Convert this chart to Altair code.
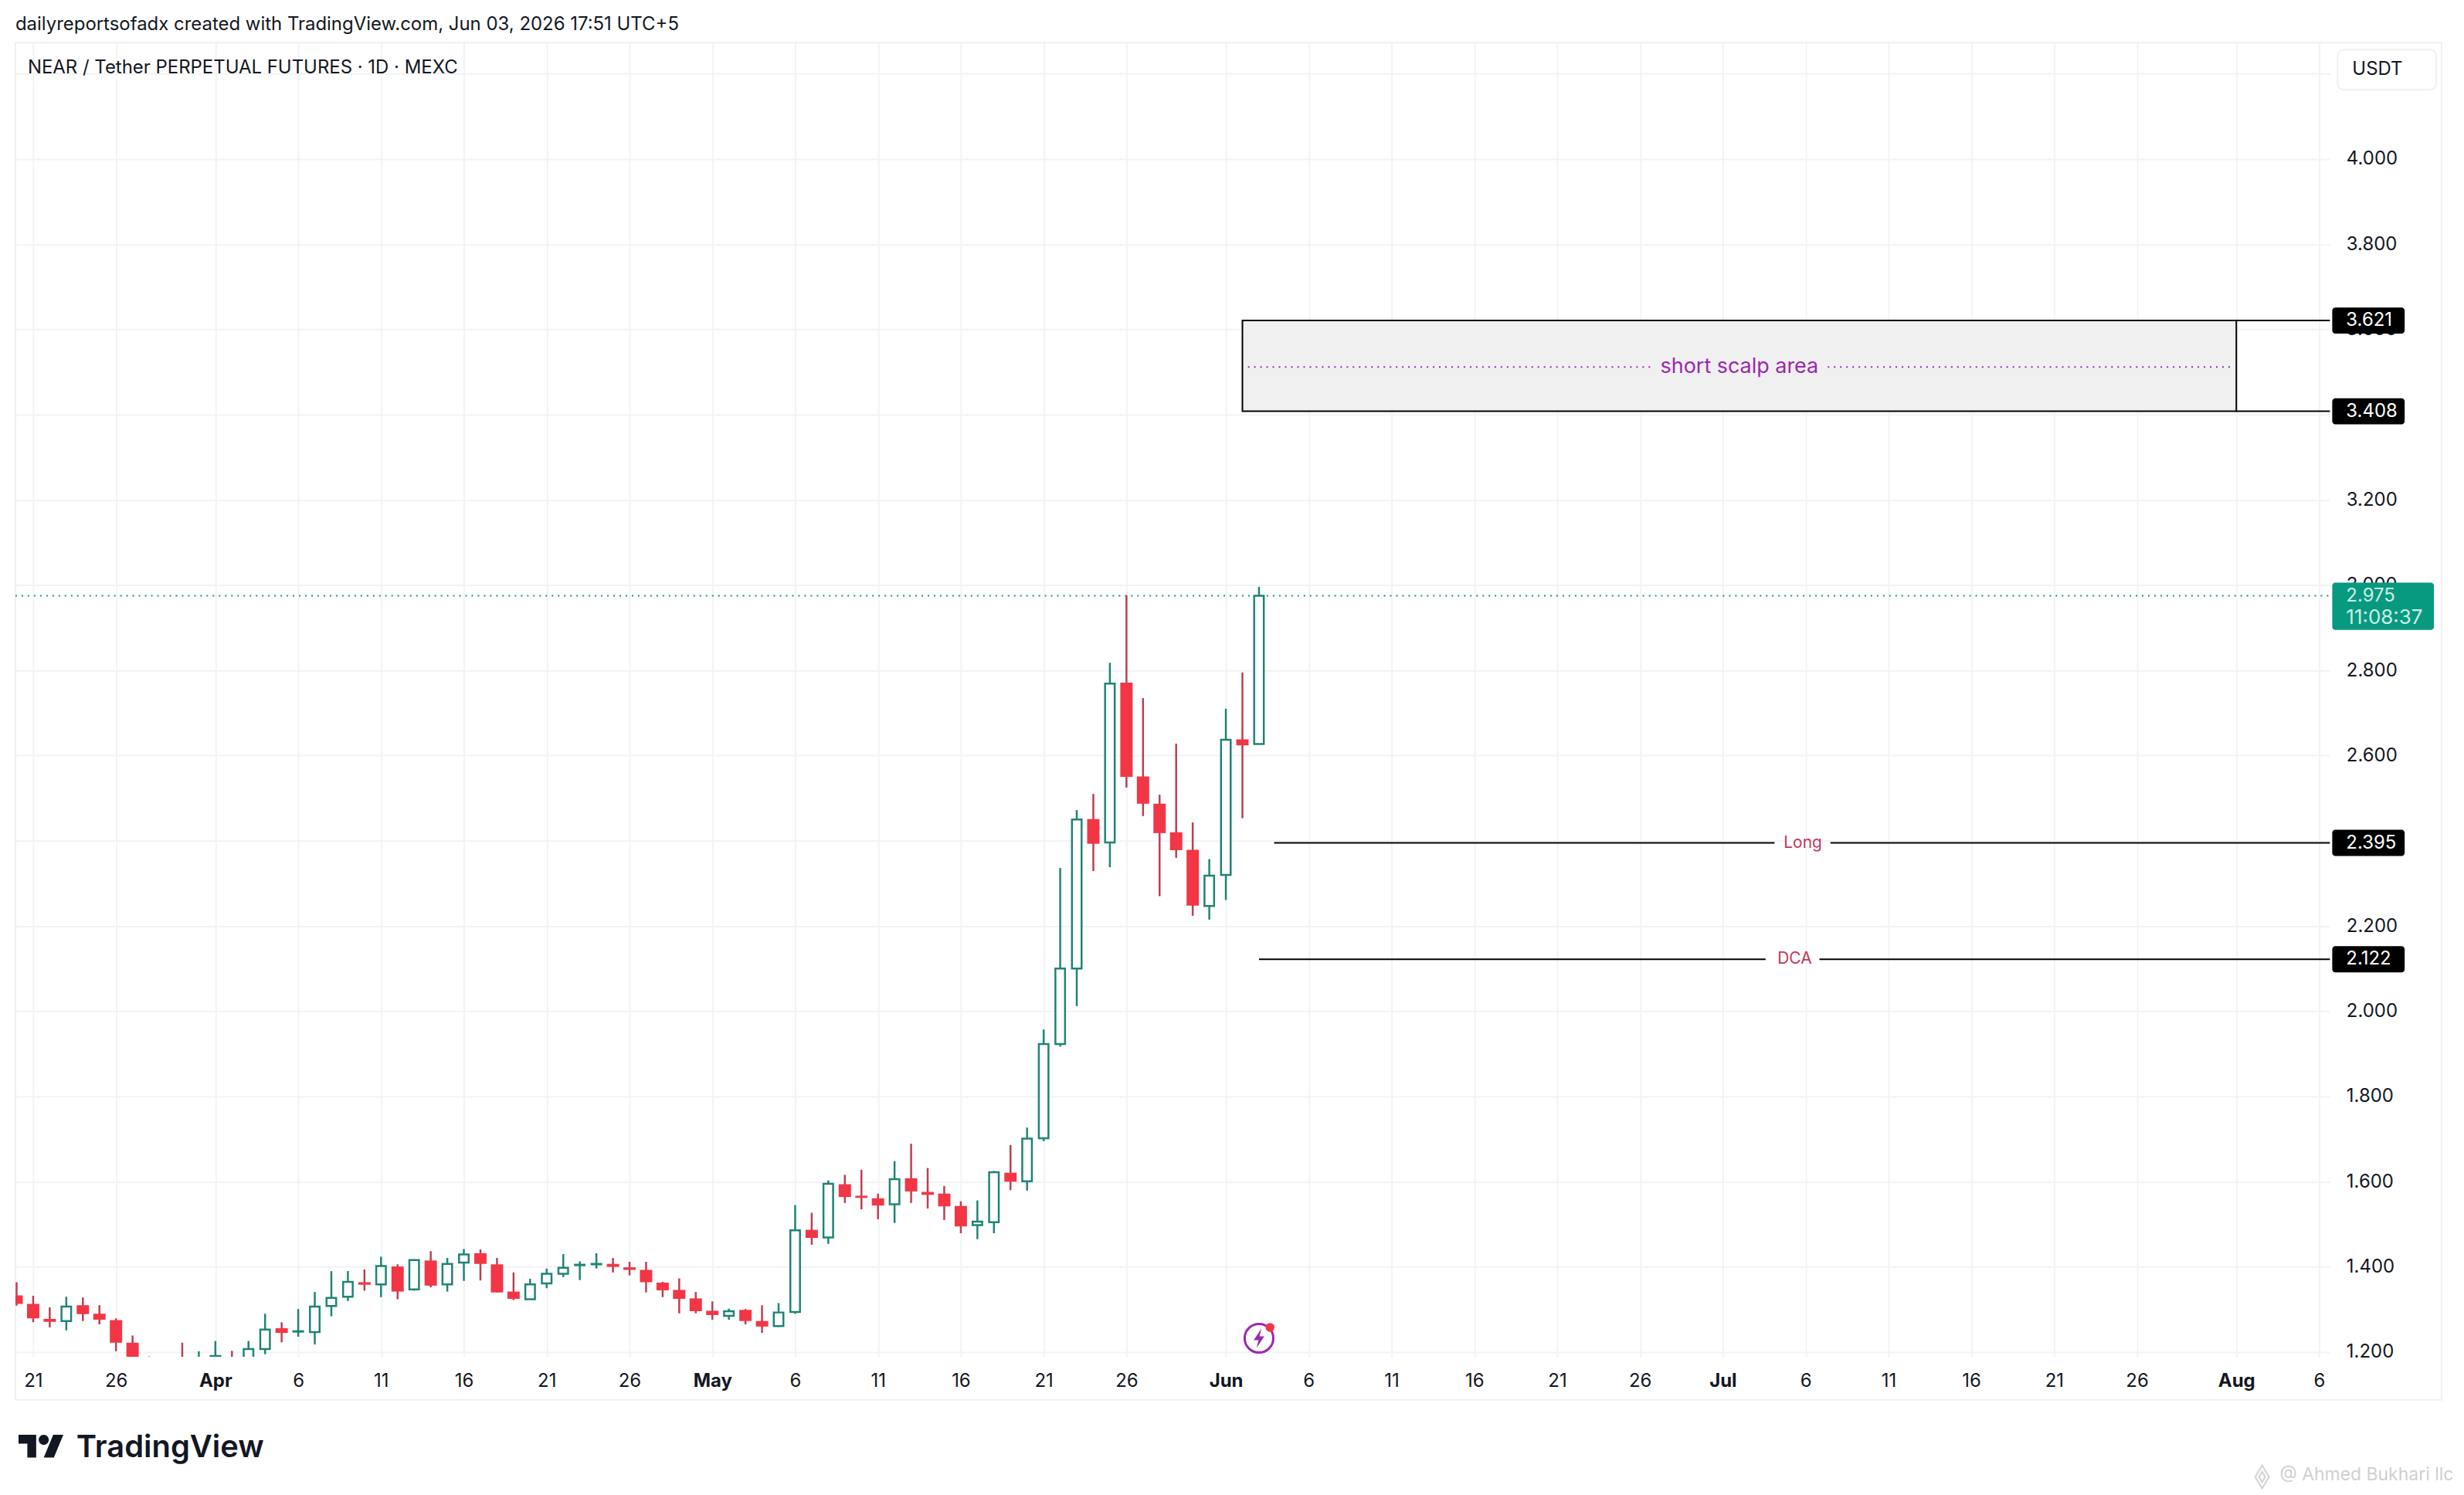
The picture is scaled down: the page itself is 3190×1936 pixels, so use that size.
import altair as alt
import pandas as pd

FONT = "Inter"
INK = "#131722"
GREEN = "#1F8474"
TEAL = "#089981"
RED = "#F23645"
RED_WICK = "#BC3F52"
PURPLE = "#9C27B0"
GRID = "#F2F3F5"

opens = [1.333,1.313,1.278,1.273,1.310,1.290,1.275,1.222,1.170,1.155,1.170,1.155,
         1.165,1.189,1.175,1.207,1.256,1.248,1.247,1.308,1.330,1.364,1.359,1.401,1.347,1.415,1.359,1.410,1.432,1.406,
         1.342,1.324,1.361,1.384,1.404,1.406,1.407,1.399,1.393,1.363,1.346,1.326,
         1.297,1.285,1.299,1.273,1.261,1.294,1.487,1.469,1.594,1.567,1.561,1.547,1.608,1.576,1.572,1.543,1.498,1.505,
         1.621,1.601,1.702,1.923,2.100,2.451,2.396,2.771,2.551,2.487,2.420,2.379,2.247,
         2.320,2.638,2.627]
highs = [1.364,1.332,1.305,1.330,1.328,1.310,1.279,1.239,1.190,1.180,1.222,1.202,
         1.226,1.203,1.226,1.290,1.270,1.301,1.341,1.390,1.390,1.394,1.424,1.406,1.418,1.437,1.421,1.442,1.441,1.421,
         1.387,1.372,1.396,1.430,1.413,1.432,1.421,1.412,1.412,1.365,1.373,1.341,
         1.319,1.302,1.301,1.310,1.315,1.545,1.527,1.603,1.616,1.628,1.572,1.648,1.689,1.632,1.590,1.554,1.556,1.625,
         1.686,1.727,1.957,2.336,2.472,2.510,2.818,2.976,2.735,2.508,2.628,2.443,2.357,
         2.710,2.795,2.996]
lows = [1.309,1.270,1.258,1.251,1.273,1.265,1.202,1.150,1.140,1.140,1.140,1.140,
        1.150,1.160,1.160,1.195,1.223,1.236,1.218,1.284,1.320,1.344,1.329,1.324,1.344,1.352,1.342,1.367,1.368,1.340,
        1.322,1.324,1.350,1.376,1.369,1.396,1.387,1.380,1.340,1.329,1.291,1.291,
        1.276,1.276,1.265,1.245,1.259,1.290,1.452,1.454,1.550,1.535,1.512,1.503,1.550,1.537,1.510,1.479,1.465,1.479,
        1.580,1.579,1.695,1.917,2.012,2.329,2.338,2.525,2.458,2.270,2.360,2.224,2.215,
        2.261,2.453,2.627]
closes = [1.313,1.279,1.271,1.307,1.289,1.276,1.222,1.170,1.155,1.150,1.155,1.165,
          1.191,1.175,1.207,1.253,1.245,1.249,1.307,1.327,1.365,1.358,1.402,1.342,1.416,1.356,1.407,1.429,1.407,1.340,
          1.325,1.359,1.384,1.398,1.405,1.407,1.400,1.393,1.364,1.345,1.325,1.296,
          1.287,1.296,1.273,1.260,1.293,1.486,1.468,1.595,1.564,1.562,1.544,1.606,1.577,1.569,1.542,1.495,1.506,1.622,
          1.600,1.701,1.923,2.100,2.450,2.393,2.769,2.550,2.487,2.418,2.378,2.248,2.318,
          2.637,2.624,2.975]

price_ticks = [1.2,1.4,1.6,1.8,2.0,2.2,2.4,2.6,2.8,3.0,3.2,3.4,3.6,3.8,4.0,4.2]
date_ticks = ["2026-03-21","2026-03-26","2026-04-01","2026-04-06","2026-04-11","2026-04-16","2026-04-21","2026-04-26",
              "2026-05-01","2026-05-06","2026-05-11","2026-05-16","2026-05-21","2026-05-26","2026-06-01","2026-06-06",
              "2026-06-11","2026-06-16","2026-06-21","2026-06-26","2026-07-01","2026-07-06","2026-07-11","2026-07-16",
              "2026-07-21","2026-07-26","2026-08-01","2026-08-06"]

def ms(s):
    return int(pd.Timestamp(s, tz="UTC").value // 10**6)

X0, X1 = ms("2026-03-19T22:18"), ms("2026-08-06T15:36")
Y0, Y1 = 1.189, 4.273

x_scale = alt.Scale(type="utc", domain=[X0, X1], padding=0)
y_scale = alt.Scale(domain=[Y0, Y1], nice=False, zero=False)

x_axis = alt.Axis(
    values=[ms(d) for d in date_ticks],
    labelExpr="utcdate(datum.value)==1 ? utcFormat(datum.value,'%b') : utcFormat(datum.value,'%-d')",
    labelFontWeight=alt.condition("utcdate(datum.value)==1", alt.value("bold"), alt.value("normal")),
    labelFont=FONT, labelFontSize=24, labelColor=INK, labelPadding=20, labelAngle=0,
    labelOverlap=False, labelBound=False, labelFlush=False,
    ticks=False, domain=False, grid=True, gridColor=GRID, gridWidth=2, title=None)
y_axis = alt.Axis(
    orient="right", values=price_ticks,
    labelExpr="datum.value > 4.1 ? '' : format(datum.value,'.3f')",
    labelFont=FONT, labelFontSize=24, labelColor=INK, labelPadding=21,
    labelOverlap=False, labelBound=False, labelFlush=False,
    ticks=False, domain=False, grid=True, gridColor=GRID, gridWidth=2, title=None)

def YF(f):
    return alt.Y(f, scale=y_scale, axis=y_axis)

X = alt.X("t:T", scale=x_scale, axis=x_axis)
Y = YF("p:Q")
Y2 = alt.Y2("p2:Q")
X2 = alt.X2("t2:T")

df = pd.DataFrame({
    "t": [ms(d) for d in pd.date_range("2026-03-20", periods=len(opens)).strftime("%Y-%m-%d")],
    "o": opens, "h": highs, "l": lows, "c": closes,
})
df["top"] = df[["o", "c"]].max(axis=1)
df["bot"] = df[["o", "c"]].min(axis=1)
up = df[df.c >= df.o]
dn = df[df.c < df.o]

frame = alt.Chart(pd.DataFrame({"a": [0]})).mark_rect(fill="transparent", stroke="#F0F0F0", strokeWidth=2).encode(
    x=alt.value(0), x2=alt.value(3149), y=alt.value(0), y2=alt.value(1762))

def wick(d, color):
    return alt.Chart(d).mark_rule(color=color, strokeWidth=2.5, clip=True).encode(
        x=X, y=YF("h:Q"), y2=alt.Y2("l:Q"))

wick_up = wick(up, GREEN)
wick_dn = wick(dn, RED_WICK)
body_up = alt.Chart(up).mark_bar(size=12.5, fill="white", stroke=GREEN, strokeWidth=2.5, clip=True).encode(
    x=X, y=YF("top:Q"), y2=alt.Y2("bot:Q"))
body_dn = alt.Chart(dn).mark_bar(size=16, color=RED, clip=True).encode(
    x=X, y=YF("top:Q"), y2=alt.Y2("bot:Q"))

# short scalp box
box_top, box_bot = 3.621, 3.408
box_l, box_r = ms("2026-06-02"), ms("2026-08-01")
box = alt.Chart(pd.DataFrame({"t": [box_l], "t2": [box_r], "p": [box_top], "p2": [box_bot]})).mark_rect(
    fill="#F0F0F1", stroke="black", strokeWidth=2).encode(x=X, x2=X2, y=Y, y2=Y2)
rays = alt.Chart(pd.DataFrame({"t": [box_r, box_r], "t2": [X1, X1], "p": [box_top, box_bot]})).mark_rule(
    color="black", strokeWidth=2).encode(x=X, x2=X2, y=Y)

scalp_mid = 3.512
scalp_line = alt.Chart(pd.DataFrame({
    "t": [ms("2026-06-02T08:00"), ms("2026-07-07T08:00")],
    "t2": [ms("2026-06-26T19:00"), ms("2026-07-31T17:00")],
    "p": [scalp_mid, scalp_mid]})).mark_rule(color=PURPLE, strokeWidth=2, strokeDash=[2, 6]).encode(x=X, x2=X2, y=Y)
scalp_text = alt.Chart(pd.DataFrame({"t": [ms("2026-07-02")], "p": [scalp_mid], "s": ["short scalp area"]})).mark_text(
    font=FONT, fontSize=27, color=PURPLE).encode(x=X, y=Y, text="s:N")

# horizontal levels
level_lines = alt.Chart(pd.DataFrame({
    "t": [ms("2026-06-03T22:00"), ms("2026-07-07T12:00"), ms("2026-06-03"), ms("2026-07-06T20:00")],
    "t2": [ms("2026-07-04T03:00"), X1, ms("2026-07-03T14:00"), X1],
    "p": [2.395, 2.395, 2.122, 2.122]})).mark_rule(color="black", strokeWidth=2).encode(x=X, x2=X2, y=Y)
level_text = alt.Chart(pd.DataFrame({
    "t": [ms("2026-07-05T20:00"), ms("2026-07-05T08:00")],
    "p": [2.395, 2.122], "s": ["Long", "DCA"]})).mark_text(font=FONT, fontSize=21, color="#C2375C").encode(x=X, y=Y, text="s:N")

# last price line
last_price = 2.975
price_line = alt.Chart(pd.DataFrame({"t": [X0], "t2": [X1], "p": [last_price]})).mark_rule(
    color=TEAL, strokeWidth=2, strokeDash=[2, 6]).encode(x=X, x2=X2, y=Y)

# price tags on the axis
tag_vals = [3.621, 3.408, 2.395, 2.122]
tag_half = 0.0307
tag_df = pd.DataFrame({"p": [v + tag_half for v in tag_vals], "p2": [v - tag_half for v in tag_vals],
                       "m": tag_vals, "s": [f"{v:.3f}" for v in tag_vals]})
tags = alt.Chart(tag_df).mark_rect(fill="black", cornerRadius=4).encode(
    x=alt.value(3007), x2=alt.value(3101), y=Y, y2=Y2)
tags_text = alt.Chart(tag_df).mark_text(font=FONT, fontSize=24, color="white", align="left").encode(
    x=alt.value(3025), y=YF("m:Q"), text="s:N")

last_tag = alt.Chart(pd.DataFrame({"p": [3.006], "p2": [2.895]})).mark_rect(fill=TEAL, cornerRadius=4).encode(
    x=alt.value(3007), x2=alt.value(3139), y=Y, y2=Y2)
last_text = alt.Chart(pd.DataFrame({"p": [2.975], "s": ["2.975"]})).mark_text(
    font=FONT, fontSize=24, color="#CDEEE6", align="left").encode(x=alt.value(3025), y=Y, text="s:N")
timer_text = alt.Chart(pd.DataFrame({"p": [2.924], "s": ["11:08:37"]})).mark_text(
    font=FONT, fontSize=26, color="#CDEEE6", align="left").encode(x=alt.value(3025), y=Y, text="s:N")

# USDT button
usdt_box = alt.Chart(pd.DataFrame({"a": [0]})).mark_rect(fill="white", stroke="#F0F0F0", strokeWidth=2, cornerRadius=8).encode(
    x=alt.value(3014), x2=alt.value(3142), y=alt.value(9), y2=alt.value(61))
usdt_text = alt.Chart(pd.DataFrame({"s": ["USDT"]})).mark_text(font=FONT, fontSize=24, color=INK, align="left").encode(
    x=alt.value(3033), y=alt.value(35), text="s:N")

# header
header = alt.Chart(pd.DataFrame({"s": ["dailyreportsofadx created with TradingView.com, Jun 03, 2026 17:51 UTC+5"]})).mark_text(
    font=FONT, fontSize=24, color=INK, align="left").encode(x=alt.value(0), y=alt.value(-23), text="s:N")
symbol = alt.Chart(pd.DataFrame({"s": ["NEAR / Tether PERPETUAL FUTURES \u00b7 1D \u00b7 MEXC"]})).mark_text(
    font=FONT, fontSize=24, color=INK, align="left").encode(x=alt.value(16), y=alt.value(33), text="s:N")

# lightning icon
icon_c = alt.Chart(pd.DataFrame({"t": [ms("2026-06-03")], "p": [1.2325]})).mark_point(
    shape="circle", size=1385, filled=False, color=PURPLE, strokeWidth=3, opacity=1).encode(x=X, y=Y)
icon_b = alt.Chart(pd.DataFrame({"t": [ms("2026-06-03")], "p": [1.2325]})).mark_point(
    shape="M0.25,-1 L-0.55,0.2 L-0.05,0.2 L-0.25,1 L0.55,-0.2 L0.05,-0.2 Z", size=625, filled=True,
    color=PURPLE, opacity=1).encode(x=X, y=Y)
icon_d = alt.Chart(pd.DataFrame({"t": [ms("2026-06-03T16:00")], "p": [1.258]})).mark_point(
    shape="circle", size=133, filled=True, color=RED, opacity=1).encode(x=X, y=Y)

# TradingView logo
logo = alt.Chart(pd.DataFrame({"a": [0]})).mark_point(
    shape="M-0.222,0.5 L-0.611,0.5 L-0.611,-0.111 L-1,-0.111 L-1,-0.5 L-0.222,-0.5 Z "
          "M0.556,0.5 L0.111,0.5 L0.528,-0.5 L0.972,-0.5 Z "
          "M-0.111,-0.278 a0.222,0.222 0 1,0 0.444,0 a0.222,0.222 0 1,0 -0.444,0 Z",
    size=3481, filled=True, color=INK, opacity=1).encode(x=alt.value(33.5), y=alt.value(1822))
logo_text = alt.Chart(pd.DataFrame({"s": ["TradingView"]})).mark_text(
    font=FONT, fontSize=40, fontWeight=600, color=INK, align="left").encode(x=alt.value(79), y=alt.value(1824), text="s:N")

# watermark
wm_icon = alt.Chart(pd.DataFrame({"a": [0]})).mark_point(
    shape="M0,-1 L0.6,0 L0,1 L-0.6,0 Z M0,-0.45 L0.27,0 L0,0.45 L-0.27,0 Z", size=900, filled=False,
    color="#D2D2D2", strokeWidth=2, opacity=1).encode(x=alt.value(2916), y=alt.value(1862))
wm_text = alt.Chart(pd.DataFrame({"s": ["@ Ahmed Bukhari llc"]})).mark_text(
    font=FONT, fontSize=23, color="#CFCFCF", align="left").encode(x=alt.value(2939), y=alt.value(1859), text="s:N")

chart = alt.layer(
    frame, box, rays, scalp_line, scalp_text, level_lines, level_text, price_line,
    wick_up, wick_dn, body_up, body_dn,
    icon_c, icon_b, icon_d,
    tags, tags_text, last_tag, last_text, timer_text, usdt_box, usdt_text,
    header, symbol, logo, logo_text, wm_icon, wm_text,
).properties(
    width=3004, height=1706,
    autosize=alt.AutoSizeParams(type="none"),
    padding={"left": 12, "top": 45, "right": 166, "bottom": 170},
    background="white",
).configure_view(stroke=None)

chart.save("out.html", embed_options={"renderer": "svg", "actions": False})
